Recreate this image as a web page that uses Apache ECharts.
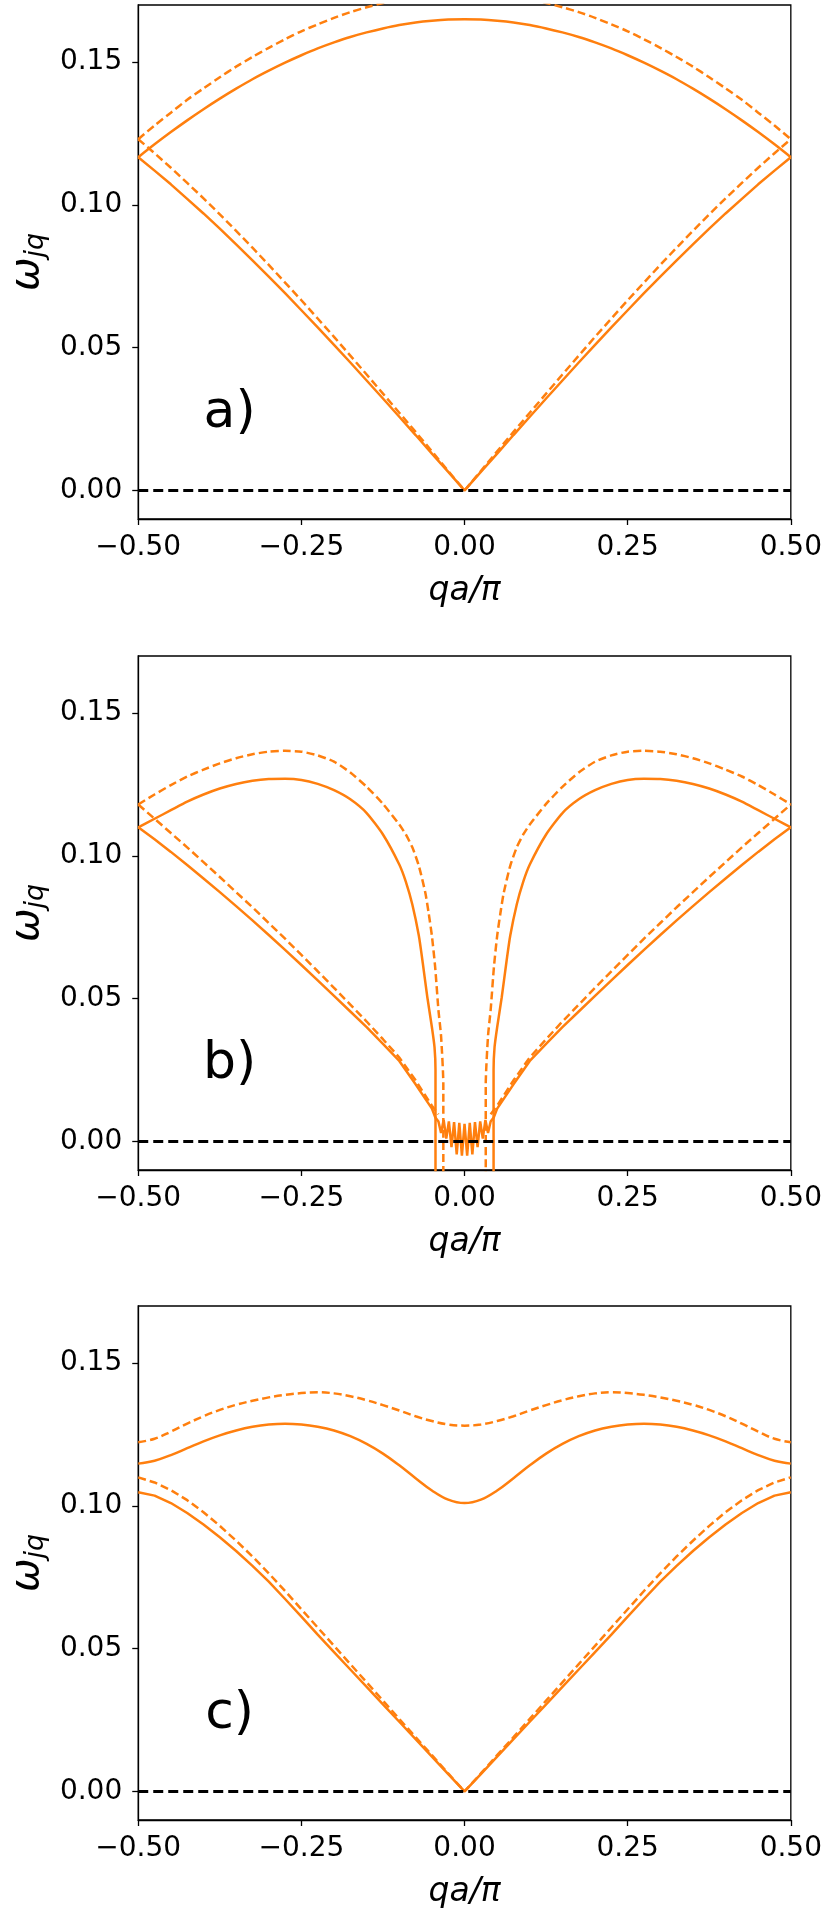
<!DOCTYPE html>
<html><head><meta charset="utf-8">
<script src="https://cdn.jsdelivr.net/npm/echarts@6/dist/echarts.min.js"></script>
<style>html,body{margin:0;padding:0;background:#fff}#c{width:825px;height:1913px}</style>
</head><body><div id="c"></div>
<script>
// ---- data ----
const Q = [-0.5,-0.475,-0.45,-0.425,-0.4,-0.375,-0.35,-0.325,-0.3,-0.275,-0.25,-0.225,-0.2,-0.175,-0.15,-0.125,-0.1,-0.075,-0.05,-0.025,0,0.025,0.05,0.075,0.1,0.125,0.15,0.175,0.2,0.225,0.25,0.275,0.3,0.325,0.35,0.375,0.4,0.425,0.45,0.475,0.5];
const X_TICKS = [-0.5, -0.25, 0, 0.25, 0.5];
const Y_TICKS = [0, 0.05, 0.10, 0.15];
const PANEL_LABELS = ['a)', 'b)', 'c)'];
const LABEL_POS = [-0.36, 0.027];
const ZERO_LINE = [[-0.5, 0], [0.5, 0]];

// panel a
const aSolidLow = [0.1167,0.1120,0.1072,0.1021,0.0970,0.0917,0.0862,0.0806,0.0749,0.0691,0.0631,0.0571,0.0510,0.0448,0.0385,0.0322,0.0258,0.0194,0.0129,0.0065,0,0.0065,0.0129,0.0194,0.0258,0.0322,0.0385,0.0448,0.0510,0.0571,0.0631,0.0691,0.0749,0.0806,0.0862,0.0917,0.0970,0.1021,0.1072,0.1120,0.1167];
const aSolidUp = [0.1167,0.1212,0.1255,0.1296,0.1335,0.1372,0.1407,0.1440,0.1470,0.1498,0.1524,0.1548,0.1569,0.1588,0.1604,0.1618,0.1630,0.1639,0.1645,0.1649,0.1650,0.1649,0.1645,0.1639,0.1630,0.1618,0.1604,0.1588,0.1569,0.1548,0.1524,0.1498,0.1470,0.1440,0.1407,0.1372,0.1335,0.1296,0.1255,0.1212,0.1167];
const aDashLow = [0.1230,0.1181,0.1130,0.1077,0.1023,0.0967,0.0909,0.0850,0.0790,0.0728,0.0666,0.0602,0.0538,0.0472,0.0406,0.0339,0.0272,0.0205,0.0137,0.0068,0,0.0068,0.0137,0.0205,0.0272,0.0339,0.0406,0.0472,0.0538,0.0602,0.0666,0.0728,0.0790,0.0850,0.0909,0.0967,0.1023,0.1077,0.1130,0.1181,0.1230];
const aDashUp = [0.1230,0.1278,0.1323,0.1368,0.1408,0.1447,0.1484,0.1518,0.1550,0.1580,0.1608,0.1632,0.1655,0.1675,0.1692,0.1707,0.1719,0.1728,0.1735,0.1739,0.1740,0.1739,0.1735,0.1728,0.1719,0.1707,0.1692,0.1675,0.1655,0.1632,0.1608,0.1580,0.1550,0.1518,0.1484,0.1447,0.1408,0.1368,0.1323,0.1278,0.1230];

// panel b
const bLowX = [-0.5,-0.475,-0.45,-0.425,-0.4,-0.375,-0.35,-0.325,-0.3,-0.275,-0.25,-0.225,-0.2,-0.175,-0.15,-0.125,-0.1,-0.075,-0.05,-0.045,-0.04,-0.036,-0.032,-0.028,-0.024,-0.02,-0.016,-0.012,-0.008,-0.004,0,0.004,0.008,0.012,0.016,0.02,0.024,0.028,0.032,0.036,0.04,0.045,0.05,0.075,0.1,0.125,0.15,0.175,0.2,0.225,0.25,0.275,0.3,0.325,0.35,0.375,0.4,0.425,0.45,0.475,0.5];
const bSolidLow = [0.1100,0.1058,0.1014,0.0968,0.0921,0.0873,0.0824,0.0774,0.0723,0.0671,0.0618,0.0564,0.0510,0.0455,0.0400,0.0342,0.0282,0.0200,0.0115,0.0085,0.0070,0.0030,0.0075,0.0010,0.0070,-0.0020,0.0068,-0.0045,0.0065,-0.0050,0.0062,-0.0050,0.0065,-0.0045,0.0068,-0.0020,0.0070,0.0010,0.0075,0.0030,0.0070,0.0085,0.0115,0.0200,0.0282,0.0342,0.0400,0.0455,0.0510,0.0564,0.0618,0.0671,0.0723,0.0774,0.0824,0.0873,0.0921,0.0968,0.1014,0.1058,0.1100];
const bDashLowLX = [-0.5,-0.475,-0.45,-0.425,-0.4,-0.375,-0.35,-0.325,-0.3,-0.275,-0.25,-0.225,-0.2,-0.175,-0.15,-0.125,-0.1,-0.075,-0.05,-0.04];
const bDashLowL = [0.1180,0.1130,0.1080,0.1030,0.0978,0.0926,0.0873,0.0820,0.0765,0.0710,0.0653,0.0596,0.0538,0.0479,0.0420,0.0358,0.0294,0.0214,0.0125,0.0095];
const bDashLowRX = [0.04,0.05,0.075,0.1,0.125,0.15,0.175,0.2,0.225,0.25,0.275,0.3,0.325,0.35,0.375,0.4,0.425,0.45,0.475,0.5];
const bDashLowR = [0.0095,0.0125,0.0214,0.0294,0.0358,0.0420,0.0479,0.0538,0.0596,0.0653,0.0710,0.0765,0.0820,0.0873,0.0926,0.0978,0.1030,0.1080,0.1130,0.1180];
const bSolidUpLX = [-0.5,-0.475,-0.45,-0.425,-0.4,-0.375,-0.35,-0.325,-0.3,-0.275,-0.25,-0.225,-0.2,-0.175,-0.15,-0.125,-0.1,-0.09,-0.08,-0.07,-0.064,-0.057,-0.05,-0.046,-0.0445,-0.0445];
const bSolidUpL = [0.1100,0.1130,0.1160,0.1190,0.1215,0.1236,0.1252,0.1263,0.1269,0.1270,0.1266,0.1252,0.1230,0.1198,0.1150,0.1075,0.0970,0.0910,0.0830,0.0720,0.0625,0.0505,0.0400,0.0330,0.0250,-0.0300];
const bSolidUpRX = [0.0445,0.0445,0.046,0.05,0.057,0.064,0.07,0.08,0.09,0.1,0.125,0.15,0.175,0.2,0.225,0.25,0.275,0.3,0.325,0.35,0.375,0.4,0.425,0.45,0.475,0.5];
const bSolidUpR = [-0.0300,0.0250,0.0330,0.0400,0.0505,0.0625,0.0720,0.0830,0.0910,0.0970,0.1075,0.1150,0.1198,0.1230,0.1252,0.1266,0.1270,0.1269,0.1263,0.1252,0.1236,0.1215,0.1190,0.1160,0.1130,0.1100];
const bDashUpLX = [-0.5,-0.475,-0.45,-0.425,-0.4,-0.375,-0.35,-0.325,-0.3,-0.275,-0.25,-0.225,-0.2,-0.175,-0.15,-0.125,-0.1,-0.09,-0.08,-0.07,-0.06,-0.055,-0.05,-0.045,-0.04,-0.036,-0.0325,-0.0325];
const bDashUpL = [0.1180,0.1215,0.1248,0.1278,0.1302,0.1324,0.1342,0.1356,0.1365,0.1368,0.1365,0.1352,0.1330,0.1292,0.1242,0.1182,0.1110,0.1075,0.1030,0.0965,0.0870,0.0800,0.0720,0.0610,0.0460,0.0370,0.0200,-0.0300];
const bDashUpRX = [0.0325,0.0325,0.036,0.04,0.045,0.05,0.055,0.06,0.07,0.08,0.09,0.1,0.125,0.15,0.175,0.2,0.225,0.25,0.275,0.3,0.325,0.35,0.375,0.4,0.425,0.45,0.475,0.5];
const bDashUpR = [-0.0300,0.0200,0.0370,0.0460,0.0610,0.0720,0.0800,0.0870,0.0965,0.1030,0.1075,0.1110,0.1182,0.1242,0.1292,0.1330,0.1352,0.1365,0.1368,0.1365,0.1356,0.1342,0.1324,0.1302,0.1278,0.1248,0.1215,0.1180];

// panel c
const cSolidUp = [0.1148,0.1158,0.1178,0.1202,0.1226,0.1247,0.1264,0.1277,0.1285,0.1288,0.1285,0.1277,0.1264,0.1244,0.1217,0.1183,0.1142,0.1097,0.1054,0.1022,0.1010,0.1022,0.1054,0.1097,0.1142,0.1183,0.1217,0.1244,0.1264,0.1277,0.1285,0.1288,0.1285,0.1277,0.1264,0.1247,0.1226,0.1202,0.1178,0.1158,0.1148];
const cDashUp = [0.1223,0.1235,0.1260,0.1288,0.1314,0.1336,0.1354,0.1368,0.1380,0.1389,0.1395,0.1398,0.1394,0.1384,0.1370,0.1353,0.1334,0.1314,0.1297,0.1285,0.1281,0.1285,0.1297,0.1314,0.1334,0.1353,0.1370,0.1384,0.1394,0.1398,0.1395,0.1389,0.1380,0.1368,0.1354,0.1336,0.1314,0.1288,0.1260,0.1235,0.1223];
const cSolidLow = [0.1048,0.1036,0.1010,0.0975,0.0935,0.0890,0.0842,0.0790,0.0735,0.0674,0.0612,0.0549,0.0488,0.0427,0.0366,0.0305,0.0244,0.0183,0.0122,0.0061,0,0.0061,0.0122,0.0183,0.0244,0.0305,0.0366,0.0427,0.0488,0.0549,0.0612,0.0674,0.0735,0.0790,0.0842,0.0890,0.0935,0.0975,0.1010,0.1036,0.1048];
const cDashLow = [0.1100,0.1082,0.1055,0.1020,0.0978,0.0930,0.0878,0.0823,0.0764,0.0702,0.0638,0.0574,0.0510,0.0446,0.0382,0.0318,0.0254,0.0190,0.0127,0.0063,0,0.0063,0.0127,0.0190,0.0254,0.0318,0.0382,0.0446,0.0510,0.0574,0.0638,0.0702,0.0764,0.0823,0.0878,0.0930,0.0978,0.1020,0.1055,0.1082,0.1100];

// ---- chart ----
const FONT = 'DejaVu Sans';
const ORANGE = '#ff7f0e';
const zip = (xs, ys) => xs.map((x, i) => [x, ys[i]]);

// [data, dashed?, smooth]
const panels = [
  [[zip(Q, aSolidLow), false, 0], [zip(Q, aSolidUp), false, 0.3], [zip(Q, aDashLow), true, 0], [zip(Q, aDashUp), true, 0.3]],
  [[zip(bLowX, bSolidLow), false, 0], [zip(bSolidUpLX, bSolidUpL), false, 0.2], [zip(bSolidUpRX, bSolidUpR), false, 0.2],
   [zip(bDashLowLX, bDashLowL), true, 0], [zip(bDashLowRX, bDashLowR), true, 0],
   [zip(bDashUpLX, bDashUpL), true, 0.2], [zip(bDashUpRX, bDashUpR), true, 0.2]],
  [[zip(Q, cSolidLow), false, 0], [zip(Q, cSolidUp), false, 0.4], [zip(Q, cDashLow), true, 0], [zip(Q, cDashUp), true, 0.4]]
];
const tops = [5, 656, 1306];

const grid = [], xAxis = [], yAxis = [], series = [];
panels.forEach((curves, i) => {
  grid.push({ left: 128, right: 34, top: tops[i], height: 514, show: true, borderColor: '#000', borderWidth: 1.3, backgroundColor: 'transparent' });
  xAxis.push({
    type: 'value', gridIndex: i, min: -0.5, max: 0.5, interval: 0.25,
    name: '{i|qa/\u03c0}', nameLocation: 'middle', nameGap: 56,
    nameTextStyle: { rich: { i: { fontFamily: FONT, fontStyle: 'italic', fontSize: 33, color: '#000' } } },
    axisLine: { show: true, onZero: false, lineStyle: { color: '#000', width: 1.3 } },
    axisTick: { show: true, inside: false, length: 6, lineStyle: { color: '#000', width: 1.3 }, customValues: X_TICKS },
    axisLabel: { fontFamily: FONT, fontSize: 28, color: '#000', margin: 15, customValues: X_TICKS,
      formatter: v => v.toFixed(2).replace('-', '\u2212') },
    splitLine: { show: false }
  });
  yAxis.push({
    type: 'value', gridIndex: i, min: -0.01, max: 0.17,
    name: '{w|\u03c9}{s|jq}', nameLocation: 'middle', nameGap: 89, nameRotate: 90,
    nameTextStyle: { rich: {
      w: { fontFamily: FONT, fontStyle: 'italic', fontSize: 40, color: '#000', lineHeight: 42, verticalAlign: 'middle' },
      s: { fontFamily: FONT, fontStyle: 'italic', fontSize: 27, color: '#000', lineHeight: 42, verticalAlign: 'bottom', padding: [12, 0, 0, 0] }
    } },
    axisLine: { show: true, onZero: false, lineStyle: { color: '#000', width: 1.3 } },
    axisTick: { show: true, inside: false, length: 6, lineStyle: { color: '#000', width: 1.3 }, customValues: Y_TICKS },
    axisLabel: { fontFamily: FONT, fontSize: 28, color: '#000', margin: 16, customValues: Y_TICKS,
      formatter: v => v.toFixed(2) },
    splitLine: { show: false }
  });
  curves.forEach(([d, dashed, sm]) => series.push({ type: 'line', xAxisIndex: i, yAxisIndex: i, data: d, showSymbol: false, clip: true,
    smooth: sm, lineStyle: { color: ORANGE, width: 2.5, type: dashed ? [8, 4] : 'solid' }, silent: true }));
  series.push({ type: 'line', xAxisIndex: i, yAxisIndex: i, data: ZERO_LINE, showSymbol: false, z: 5,
    lineStyle: { color: '#000', width: 3, type: [10, 5] }, silent: true });
  series.push({ type: 'scatter', xAxisIndex: i, yAxisIndex: i, data: [LABEL_POS], symbolSize: 2,
    itemStyle: { color: 'rgba(0,0,0,0)' }, silent: true, z: 6,
    label: { show: true, position: 'inside', formatter: PANEL_LABELS[i], fontFamily: FONT, fontSize: 52,
      color: '#000', opacity: 1, textBorderWidth: 0 } });
});

const chart = echarts.init(document.getElementById('c'), null, { renderer: 'canvas' });
chart.setOption({ animation: false, backgroundColor: '#fff', grid, xAxis, yAxis, series });
</script>
</body></html>
